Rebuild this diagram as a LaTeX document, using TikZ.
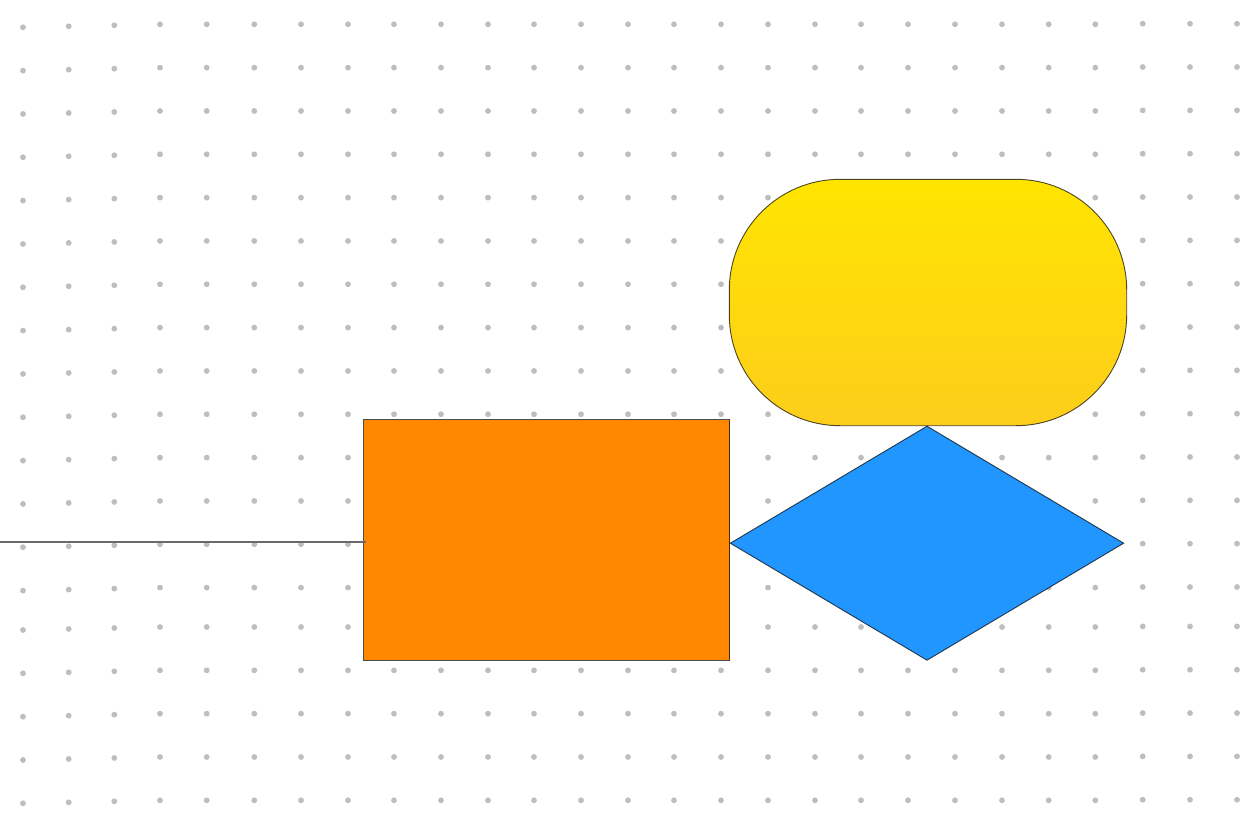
\documentclass[tikz,border=0pt]{standalone}
\usetikzlibrary{shapes.geometric}
\definecolor{dotgray}{RGB}{190,190,190}
\definecolor{boxorange}{RGB}{255,136,0}
\definecolor{diablue}{RGB}{33,150,255}
\definecolor{ytop}{RGB}{255,229,0}
\definecolor{ybot}{RGB}{253,205,28}
\definecolor{linegray}{RGB}{105,105,105}
\tikzset{
  griddot/.style={fill=dotgray},
  shapeborder/.style={draw=black, draw opacity=0.7, line width=0.9pt, inner sep=0pt, outer sep=0pt},
  boxshape/.style={shapeborder, rectangle, fill=boxorange, minimum width=366pt, minimum height=240.3pt},
  pillshape/.style={shapeborder, rectangle, rounded corners=110.7pt, top color=ytop, bottom color=ybot, minimum width=397.4pt, minimum height=246.4pt},
  diashape/.style={shapeborder, diamond, fill=diablue, minimum width=393.4pt, minimum height=234pt},
  feedline/.style={draw=linegray, line width=1.1pt}
}
\begin{document}
\begin{tikzpicture}[x=1pt,y=-1pt]
\useasboundingbox (0,0) rectangle (1260,840);
\fill[white] (0,0) rectangle (1260,840);
% dot grid
\foreach \cx/\dy in {23/3, 68.7/2, 114.3/1, 160/0, 206.7/0, 254.3/0, 301/0, 348/0, 394/0, 441/0, 488/0, 534/0, 581/0, 628/0, 674/0, 721/0, 768/0, 815/0, 861/0, 908/0, 955/0, 1002/0, 1048.7/0, 1095.3/0, 1142.7/-0.6, 1190/-0.6, 1237/-0.6}{
  \foreach \k in {0,...,13}{
    \fill[griddot] (\cx, 24.3+43.33*\k+\dy) circle (2.9);
  }
  \foreach \k in {0,...,4}{
    \fill[griddot] (\cx, 627+43.33*\k+\dy) circle (2.9);
  }
}
% shapes
\node[boxshape] (box) at (546.85,539.85) {};
\node[pillshape] (pill) at (928,302.5) {};
\node[diashape] (dia) at (927,543.2) {};
% connector
\coordinate (lstart) at (0,542);
\draw[feedline] (lstart) -- ([xshift=2pt]box.west |- lstart);
\end{tikzpicture}
\end{document}
